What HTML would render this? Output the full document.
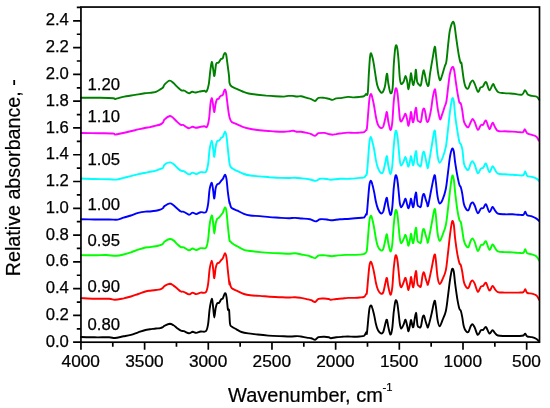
<!DOCTYPE html>
<html><head><meta charset="utf-8"><style>
html,body{margin:0;padding:0;background:#fff;}
svg{display:block;}
</style></head><body>
<svg width="550" height="408" viewBox="0 0 550 408">
<rect width="550" height="408" fill="#fff"/>
<path d="M81.0 337.0C83.2 337.1 89.8 337.2 94.5 337.3C99.2 337.4 105.7 337.2 109.1 337.3C112.5 337.4 112.5 338.2 114.9 338.0C117.3 337.8 120.9 336.8 123.6 336.3C126.3 335.8 128.5 335.5 130.9 334.8C133.3 334.1 135.8 333.1 138.2 332.3C140.6 331.5 143.5 330.5 145.5 330.0C147.5 329.5 148.3 329.6 150.0 329.3C151.7 329.1 154.2 328.7 155.9 328.5C157.6 328.3 159.1 328.5 160.3 328.2C161.5 327.9 162.3 327.4 163.0 327.0C163.7 326.6 163.5 326.1 164.7 325.6C165.8 325.1 168.4 323.9 169.9 323.8C171.4 323.8 172.3 324.6 173.5 325.3C174.7 326.0 176.0 327.3 177.2 328.2C178.4 329.1 179.8 330.2 180.9 330.7C182.0 331.2 182.5 330.8 183.8 331.2C185.2 331.6 187.5 333.1 189.0 333.2C190.5 333.3 191.4 331.9 192.6 331.8C193.8 331.8 195.0 332.9 196.3 332.9C197.7 332.8 199.1 331.8 200.7 331.5C202.3 331.2 204.7 332.4 205.9 331.2C207.1 330.0 207.5 327.7 208.1 324.1C208.7 320.5 209.0 313.6 209.6 309.4C210.2 305.2 211.2 299.1 211.8 298.8C212.4 298.6 212.8 304.8 213.2 307.9C213.6 311.0 213.9 317.5 214.3 317.5C214.7 317.5 215.2 310.3 215.7 307.9C216.2 305.5 216.6 304.0 217.2 303.2C217.8 302.4 218.4 303.5 219.1 302.8C219.8 302.1 220.7 299.8 221.3 299.1C221.9 298.4 222.2 299.4 222.8 298.4C223.4 297.4 224.4 293.4 225.0 293.2C225.6 292.9 226.0 294.2 226.5 296.9C227.0 299.6 227.5 307.2 227.9 309.4C228.3 311.6 228.8 307.8 229.1 310.2C229.4 312.6 229.6 321.0 230.0 323.7C230.4 326.4 230.4 325.5 231.4 326.4C232.4 327.3 234.4 328.2 236.1 329.1C237.8 330.0 239.5 331.3 241.5 332.0C243.5 332.7 245.5 333.0 248.2 333.4C250.9 333.8 254.2 334.1 257.6 334.5C261.0 334.9 264.8 335.3 268.4 335.6C272.0 335.9 275.6 336.0 279.2 336.1C282.8 336.2 287.0 336.5 290.0 336.5C293.0 336.5 295.6 336.1 297.4 336.1C299.2 336.1 299.3 336.2 300.9 336.5C302.5 336.8 305.1 337.3 306.8 337.6C308.5 337.9 309.8 337.9 311.2 338.2C312.6 338.5 313.9 339.9 315.1 339.7C316.3 339.5 316.9 337.7 318.5 337.2C320.1 336.7 322.7 336.8 324.4 336.8C326.1 336.8 327.7 337.0 328.8 337.2C329.9 337.4 329.8 338.2 331.0 338.2C332.2 338.2 334.3 337.4 336.2 337.2C338.1 337.0 340.2 336.9 342.1 336.8C344.1 336.7 345.9 336.5 347.9 336.5C349.8 336.5 351.8 336.8 353.8 336.8C355.8 336.8 358.0 336.7 359.7 336.5C361.4 336.3 363.0 336.4 364.1 335.7C365.2 334.9 366.0 332.4 366.5 332.0C367.0 331.6 366.6 335.4 366.9 333.4C367.2 331.4 367.8 324.1 368.2 320.0C368.6 315.9 369.0 311.3 369.4 308.9C369.8 306.5 370.3 305.5 370.8 305.4C371.3 305.2 371.8 306.4 372.3 308.0C372.9 309.6 373.5 312.3 374.1 314.9C374.7 317.5 375.2 320.9 375.8 323.5C376.4 326.1 377.1 328.7 378.0 330.3C378.9 331.9 380.0 333.1 380.9 333.4C381.8 333.7 382.4 333.6 383.2 332.0C383.9 330.4 384.8 325.6 385.4 323.5C386.0 321.4 386.4 319.1 386.9 319.7C387.4 320.3 387.7 324.4 388.3 326.9C388.9 329.4 389.8 334.3 390.4 334.6C391.0 334.9 391.6 332.5 392.2 328.6C392.8 324.8 393.2 316.1 393.8 311.5C394.4 306.9 394.9 302.2 395.5 300.8C396.1 299.4 396.7 300.8 397.2 302.9C397.7 305.0 398.2 309.8 398.6 313.2C399.0 316.6 399.4 320.9 399.8 323.5C400.2 326.1 400.6 328.5 401.2 328.6C401.8 328.7 403.0 325.8 403.7 324.3C404.4 322.8 404.9 319.4 405.5 319.7C406.1 320.0 406.7 324.1 407.2 326.0C407.7 327.9 408.0 331.5 408.5 331.2C409.0 330.9 409.7 326.2 410.1 324.3C410.5 322.4 410.7 319.9 411.1 320.0C411.5 320.1 411.9 324.1 412.3 325.2C412.7 326.3 412.9 328.6 413.5 326.5C414.1 324.4 415.2 313.0 415.9 312.8C416.6 312.6 416.9 322.8 417.5 325.2C418.1 327.6 418.6 327.0 419.2 327.2C419.8 327.4 420.3 328.1 420.9 326.5C421.5 324.9 422.1 319.3 422.6 317.5C423.1 315.7 423.5 315.1 424.0 315.7C424.5 316.3 425.0 319.2 425.5 320.9C426.0 322.6 426.7 324.8 427.1 325.8C427.5 326.8 427.4 328.6 428.1 326.9C428.8 325.2 430.2 319.7 431.2 315.4C432.3 311.1 433.6 302.8 434.4 301.2C435.2 299.6 435.3 302.9 435.8 306.0C436.3 309.1 436.9 316.2 437.5 319.6C438.1 323.0 438.7 326.2 439.6 326.2C440.5 326.2 441.7 322.1 442.7 319.6C443.7 317.1 444.9 315.0 445.8 311.2C446.7 307.4 447.2 301.9 447.9 296.7C448.6 291.5 449.3 284.6 450.0 280.0C450.7 275.4 451.5 270.6 452.1 269.2C452.7 267.8 453.2 269.2 453.8 271.7C454.3 274.2 454.6 279.7 455.2 284.2C455.8 288.7 456.6 294.7 457.3 298.8C458.0 302.9 458.8 306.8 459.4 308.8C460.0 310.8 460.3 309.3 460.8 310.7C461.3 312.1 461.8 314.7 462.3 317.4C462.8 320.1 463.2 324.4 463.9 326.7C464.5 329.0 465.4 330.4 466.2 331.3C467.0 332.2 467.7 332.7 468.5 331.8C469.3 330.9 470.1 327.1 470.8 325.9C471.5 324.7 472.1 324.1 472.7 324.4C473.3 324.7 473.8 325.8 474.7 327.5C475.6 329.2 476.8 334.4 477.8 334.9C478.8 335.3 480.0 331.0 480.9 330.2C481.8 329.4 482.3 330.3 483.2 329.8C484.1 329.3 485.0 326.5 486.0 327.1C487.0 327.7 488.3 333.1 489.4 333.6C490.5 334.1 491.6 330.3 492.5 330.2C493.4 330.1 493.9 332.0 494.8 332.9C495.7 333.8 496.2 335.0 497.9 335.5C499.6 336.0 502.4 335.9 504.8 336.0C507.2 336.1 510.3 336.0 512.6 336.0C514.9 336.0 516.9 336.1 518.7 336.0C520.5 335.9 522.3 335.9 523.4 335.5C524.5 335.1 524.6 333.5 525.2 333.6C525.8 333.8 526.1 335.8 527.2 336.4C528.3 337.0 530.4 336.8 531.9 337.2C533.4 337.6 535.3 338.3 536.5 339.0C537.7 339.7 538.7 341.0 539.1 341.4" stroke="#000000" stroke-width="1.9" fill="none" stroke-linejoin="round" stroke-linecap="round"/>
<path d="M81.0 298.1C83.2 298.2 89.8 298.7 94.5 298.8C99.2 298.9 105.7 298.6 109.1 298.8C112.5 299.0 112.5 299.9 114.9 299.8C117.3 299.7 120.9 298.9 123.6 298.4C126.3 297.8 128.5 297.2 130.9 296.5C133.3 295.8 135.8 294.8 138.2 294.0C140.6 293.2 143.5 292.1 145.5 291.5C147.5 290.9 148.3 290.9 150.0 290.7C151.7 290.4 154.2 290.2 155.9 290.0C157.6 289.8 159.1 289.7 160.3 289.3C161.5 288.9 162.3 288.4 163.0 287.8C163.7 287.2 163.5 286.6 164.7 285.9C165.8 285.2 168.4 283.9 169.9 283.8C171.4 283.8 172.3 284.8 173.5 285.6C174.7 286.4 176.0 287.5 177.2 288.5C178.4 289.5 179.8 290.9 180.9 291.5C182.0 292.1 182.5 291.3 183.8 291.8C185.2 292.3 187.5 294.3 189.0 294.4C190.5 294.5 191.4 292.7 192.6 292.6C193.8 292.6 195.0 294.1 196.3 294.1C197.7 294.1 199.1 292.9 200.7 292.6C202.3 292.3 204.7 293.6 205.9 292.2C207.1 290.8 207.5 287.9 208.1 284.1C208.7 280.3 209.0 273.3 209.6 269.4C210.2 265.5 211.2 260.6 211.8 260.6C212.4 260.6 212.8 266.5 213.2 269.4C213.6 272.3 213.9 278.4 214.3 278.2C214.7 277.9 215.2 270.3 215.7 267.9C216.2 265.4 216.6 264.4 217.2 263.5C217.8 262.6 218.4 263.4 219.1 262.8C219.8 262.2 220.7 260.6 221.3 259.9C221.9 259.2 222.2 259.5 222.8 258.4C223.4 257.3 224.4 253.3 225.0 253.2C225.6 253.1 226.0 254.7 226.5 257.6C227.0 260.6 227.4 266.5 227.9 270.9C228.4 275.3 229.1 282.3 229.4 284.1C229.7 285.9 229.2 281.1 229.5 281.5C229.8 281.9 230.3 285.6 230.9 286.8C231.5 288.0 231.7 288.2 232.8 288.9C233.9 289.6 235.8 290.2 237.6 291.1C239.4 292.0 241.8 293.3 243.9 294.0C246.0 294.7 247.6 295.0 250.3 295.3C253.0 295.6 256.7 295.7 259.9 295.9C263.1 296.1 266.3 296.5 269.5 296.7C272.7 296.9 275.8 297.1 279.0 297.2C282.2 297.3 285.9 297.5 288.6 297.5C291.3 297.5 292.9 297.1 295.0 297.2C297.1 297.3 298.9 297.6 300.9 297.9C302.9 298.2 305.1 298.7 306.8 299.1C308.5 299.5 309.8 299.7 311.2 300.2C312.6 300.7 313.9 302.2 315.1 302.0C316.3 301.8 316.9 299.4 318.5 298.8C320.1 298.2 322.7 298.5 324.4 298.5C326.1 298.5 327.7 298.8 328.8 299.0C329.9 299.2 329.8 299.8 331.0 299.8C332.2 299.8 334.3 299.2 336.2 299.0C338.1 298.8 340.2 298.7 342.1 298.5C344.1 298.3 345.9 298.0 347.9 297.9C349.8 297.8 351.8 298.0 353.8 297.9C355.8 297.8 358.0 297.7 359.7 297.5C361.4 297.3 363.0 297.4 364.1 296.8C365.2 296.2 365.8 294.5 366.3 293.8C366.8 293.1 366.6 295.1 366.9 292.5C367.2 289.9 367.8 282.3 368.2 277.9C368.6 273.5 369.0 268.6 369.4 265.9C369.8 263.2 370.3 261.8 370.8 261.6C371.3 261.5 371.8 263.1 372.3 265.0C372.9 266.9 373.5 269.8 374.1 272.7C374.7 275.6 375.2 279.3 375.8 282.2C376.4 285.1 377.1 288.0 378.0 289.9C378.9 291.8 380.0 293.3 380.9 293.7C381.8 294.1 382.4 294.3 383.2 292.5C383.9 290.7 384.8 285.4 385.4 283.0C386.0 280.6 386.4 277.3 386.9 277.9C387.4 278.5 387.7 283.7 388.3 286.5C388.9 289.3 389.8 294.4 390.4 294.7C391.0 295.0 391.6 292.7 392.2 288.2C392.8 283.7 393.2 273.0 393.8 267.6C394.4 262.2 394.9 257.0 395.5 255.6C396.1 254.2 396.7 256.4 397.2 259.0C397.7 261.6 398.2 267.0 398.6 271.0C399.0 275.0 399.4 280.3 399.8 283.0C400.2 285.7 400.6 287.4 401.2 287.3C401.8 287.2 403.0 283.8 403.7 282.2C404.4 280.6 404.9 277.5 405.5 277.9C406.1 278.3 406.7 282.7 407.2 284.7C407.7 286.7 408.0 290.2 408.5 289.9C409.0 289.6 409.7 285.1 410.1 283.0C410.5 280.9 410.7 276.9 411.1 277.0C411.5 277.1 411.9 282.3 412.3 283.9C412.7 285.5 412.9 288.6 413.5 286.5C414.1 284.4 415.2 271.4 415.9 271.0C416.6 270.6 416.9 281.4 417.5 283.9C418.1 286.4 418.6 285.7 419.2 286.1C419.8 286.5 420.3 287.9 420.9 286.1C421.5 284.3 422.1 277.6 422.6 275.3C423.1 273.0 423.5 272.0 424.0 272.4C424.5 272.8 425.0 276.1 425.5 277.9C426.0 279.6 426.7 281.9 427.1 282.9C427.5 283.9 427.4 286.1 428.1 284.0C428.8 281.9 430.2 275.3 431.2 270.4C432.3 265.5 433.6 256.5 434.4 254.8C435.2 253.1 435.3 256.4 435.8 260.0C436.3 263.6 436.9 272.7 437.5 276.7C438.1 280.7 438.7 283.6 439.6 284.0C440.5 284.4 441.7 281.1 442.7 278.8C443.7 276.5 444.9 274.6 445.8 270.4C446.7 266.2 447.2 259.7 447.9 253.8C448.6 247.9 449.3 240.4 450.0 235.0C450.7 229.6 451.5 223.2 452.1 221.5C452.7 219.8 453.2 221.7 453.8 224.6C454.3 227.5 454.6 234.3 455.2 239.2C455.8 244.1 456.6 249.8 457.3 253.8C458.0 257.8 458.8 261.2 459.4 263.1C460.0 265.0 460.3 263.6 460.8 265.1C461.3 266.6 461.8 269.2 462.3 272.0C462.8 274.8 463.2 279.5 463.9 282.0C464.5 284.5 465.4 286.1 466.2 287.1C467.0 288.1 467.7 288.8 468.5 287.9C469.3 287.0 470.1 283.2 470.8 282.0C471.5 280.8 472.1 280.2 472.7 280.5C473.3 280.8 473.8 281.7 474.7 283.6C475.6 285.5 476.8 291.3 477.8 291.8C478.8 292.3 480.0 287.7 480.9 286.7C481.8 285.7 482.3 286.5 483.2 285.9C484.1 285.2 485.0 282.0 486.0 282.8C487.0 283.6 488.3 290.0 489.4 290.5C490.5 291.0 491.6 286.1 492.5 285.9C493.4 285.6 493.9 288.0 494.8 289.0C495.7 290.0 496.2 291.5 497.9 292.1C499.6 292.7 502.4 292.5 504.8 292.6C507.2 292.7 510.3 292.6 512.6 292.6C514.9 292.6 516.9 292.7 518.7 292.6C520.5 292.5 522.3 292.7 523.4 292.1C524.5 291.6 524.6 289.2 525.2 289.3C525.8 289.4 526.1 292.2 527.2 292.9C528.3 293.6 530.4 293.2 531.9 293.6C533.4 294.0 535.3 294.5 536.5 295.5C537.7 296.5 538.7 299.1 539.1 299.8" stroke="#ff0000" stroke-width="1.9" fill="none" stroke-linejoin="round" stroke-linecap="round"/>
<path d="M81.0 255.1C83.2 255.1 90.3 255.3 94.5 255.3C98.7 255.3 102.5 254.9 106.2 255.0C109.9 255.1 113.5 255.9 116.4 255.8C119.3 255.7 121.2 255.1 123.6 254.5C126.0 253.9 128.5 253.1 130.9 252.3C133.3 251.5 135.8 250.5 138.2 249.7C140.6 248.9 143.5 247.9 145.5 247.5C147.5 247.1 148.3 247.3 150.0 247.1C151.7 246.9 154.2 246.6 155.9 246.3C157.6 246.0 159.1 245.6 160.3 245.2C161.5 244.8 162.3 244.3 163.0 243.7C163.7 243.1 163.5 242.3 164.7 241.5C165.8 240.7 168.4 239.2 169.9 239.0C171.4 238.8 172.3 239.6 173.5 240.4C174.7 241.2 176.0 243.0 177.2 244.1C178.4 245.2 179.8 246.5 180.9 247.1C182.0 247.7 182.5 246.9 183.8 247.4C185.2 247.9 187.5 250.1 189.0 250.3C190.5 250.5 191.4 248.6 192.6 248.5C193.8 248.4 195.0 250.1 196.3 250.0C197.7 249.9 199.1 248.6 200.7 248.2C202.3 247.8 204.7 249.2 205.9 247.8C207.1 246.4 207.5 243.5 208.1 239.7C208.7 235.9 209.0 229.1 209.6 225.0C210.2 220.9 211.2 215.7 211.8 215.4C212.4 215.2 212.8 220.5 213.2 223.5C213.6 226.5 213.9 233.5 214.3 233.5C214.7 233.5 215.2 225.9 215.7 223.5C216.2 221.1 216.6 219.8 217.2 218.8C217.8 217.8 218.4 218.3 219.1 217.6C219.8 216.9 220.7 215.5 221.3 214.7C221.9 213.9 222.2 214.1 222.8 212.9C223.4 211.7 224.4 207.6 225.0 207.4C225.6 207.2 226.0 208.6 226.5 211.8C227.0 215.0 227.4 221.8 227.9 226.5C228.4 231.2 229.0 237.2 229.4 239.7C229.8 242.2 229.8 240.7 230.4 241.4C231.0 242.1 231.6 243.0 232.8 243.8C234.0 244.7 235.8 245.5 237.6 246.5C239.4 247.5 241.8 249.1 243.9 249.8C246.0 250.6 247.6 250.6 250.3 251.0C253.0 251.4 256.7 251.8 259.9 252.1C263.1 252.4 266.3 252.7 269.5 252.9C272.7 253.1 275.8 253.2 279.0 253.3C282.2 253.4 285.9 253.7 288.6 253.7C291.3 253.7 292.9 253.2 295.0 253.3C297.1 253.4 299.3 254.1 301.4 254.5C303.5 254.9 306.1 255.3 307.8 255.7C309.5 256.1 310.4 256.6 311.7 257.0C312.9 257.4 314.1 258.4 315.3 258.1C316.5 257.8 317.2 255.9 318.9 255.4C320.6 254.9 323.2 255.3 325.3 255.4C327.4 255.5 329.6 256.2 331.7 256.2C333.8 256.2 335.7 255.6 338.1 255.4C340.5 255.2 343.1 255.0 346.0 254.9C348.9 254.8 352.7 255.0 355.6 254.9C358.5 254.8 361.9 254.5 363.6 254.1C365.3 253.7 365.4 253.2 366.0 252.5C366.6 251.8 366.5 253.0 366.9 250.0C367.3 247.0 367.8 239.4 368.2 234.6C368.6 229.8 369.0 224.1 369.4 220.9C369.8 217.8 370.3 216.0 370.8 215.7C371.3 215.4 371.8 217.2 372.3 219.2C372.9 221.2 373.5 224.6 374.1 227.7C374.7 230.8 375.2 234.8 375.8 238.0C376.4 241.2 377.1 244.5 378.0 246.6C378.9 248.7 380.0 250.0 380.9 250.4C381.8 250.8 382.4 251.0 383.2 249.2C383.9 247.4 384.8 242.2 385.4 239.7C386.0 237.2 386.4 233.7 386.9 234.3C387.4 234.9 387.7 240.3 388.3 243.2C388.9 246.0 389.8 251.1 390.4 251.4C391.0 251.7 391.6 249.4 392.2 244.9C392.8 240.4 393.2 230.0 393.8 224.3C394.4 218.6 394.9 212.4 395.5 210.6C396.1 208.8 396.7 210.6 397.2 213.2C397.7 215.8 398.2 221.9 398.6 226.0C399.0 230.1 399.4 235.1 399.8 238.0C400.2 240.9 400.6 243.0 401.2 243.2C401.8 243.3 403.0 240.3 403.7 238.9C404.4 237.5 404.9 234.6 405.5 234.9C406.1 235.2 406.7 238.8 407.2 240.6C407.7 242.4 408.0 246.0 408.5 245.7C409.0 245.4 409.7 240.9 410.1 238.9C410.5 236.9 410.7 233.4 411.1 233.7C411.5 234.0 411.9 239.2 412.3 240.6C412.7 242.0 412.9 244.5 413.5 242.3C414.1 240.2 415.2 228.0 415.9 227.7C416.6 227.4 416.9 238.2 417.5 240.6C418.1 243.0 418.6 242.0 419.2 242.3C419.8 242.6 420.3 244.2 420.9 242.3C421.5 240.5 422.1 233.4 422.6 231.2C423.1 229.0 423.5 228.5 424.0 229.1C424.5 229.7 425.0 232.8 425.5 234.6C426.0 236.4 426.7 238.6 427.1 239.8C427.5 241.0 427.4 244.2 428.1 241.9C428.8 239.6 430.2 231.6 431.2 226.2C432.3 220.8 433.6 211.5 434.4 209.6C435.2 207.7 435.3 211.0 435.8 214.8C436.3 218.6 436.9 228.2 437.5 232.5C438.1 236.8 438.7 240.5 439.6 240.8C440.5 241.2 441.7 237.2 442.7 234.6C443.7 232.0 444.9 229.4 445.8 225.2C446.7 221.0 447.2 215.3 447.9 209.6C448.6 203.9 449.3 196.4 450.0 190.8C450.7 185.2 451.5 178.1 452.1 176.2C452.7 174.3 453.2 176.6 453.8 179.4C454.3 182.2 454.6 187.9 455.2 192.9C455.8 197.9 456.6 205.1 457.3 209.6C458.0 214.1 458.8 217.9 459.4 220.0C460.0 222.1 460.3 220.3 460.8 222.1C461.3 223.8 461.8 227.4 462.3 230.5C462.8 233.6 463.2 237.9 463.9 240.5C464.5 243.1 465.4 244.8 466.2 245.9C467.0 247.0 467.7 247.9 468.5 247.0C469.3 246.1 470.1 241.9 470.8 240.5C471.5 239.1 472.1 238.2 472.7 238.5C473.3 238.8 473.8 239.9 474.7 242.0C475.6 244.1 476.8 250.4 477.8 250.9C478.8 251.4 480.0 246.1 480.9 245.1C481.8 244.1 482.3 245.3 483.2 244.7C484.1 244.1 485.0 240.5 486.0 241.3C487.0 242.2 488.3 249.3 489.4 249.8C490.5 250.3 491.6 244.8 492.5 244.4C493.4 244.0 493.9 246.3 494.8 247.5C495.7 248.7 496.2 250.5 497.9 251.3C499.6 252.1 502.4 251.9 504.8 252.1C507.2 252.3 510.3 252.3 512.6 252.4C514.9 252.5 516.9 252.8 518.7 252.9C520.5 253.0 522.3 253.5 523.4 252.9C524.5 252.3 524.6 249.2 525.2 249.3C525.8 249.4 526.1 252.5 527.2 253.3C528.3 254.2 530.4 253.9 531.9 254.4C533.4 254.9 535.3 255.4 536.5 256.4C537.7 257.4 538.7 259.9 539.1 260.6" stroke="#00ff00" stroke-width="1.9" fill="none" stroke-linejoin="round" stroke-linecap="round"/>
<path d="M81.0 219.2C83.2 219.2 89.8 219.4 94.5 219.5C99.2 219.6 105.2 219.5 109.1 219.5C113.0 219.5 115.4 219.9 117.8 219.6C120.2 219.3 121.4 218.4 123.6 217.7C125.8 217.0 128.5 216.3 130.9 215.5C133.3 214.7 135.8 213.6 138.2 212.9C140.6 212.2 143.5 211.8 145.5 211.6C147.5 211.4 148.3 211.7 150.0 211.5C151.7 211.3 154.2 211.0 155.9 210.7C157.6 210.4 159.1 210.0 160.3 209.6C161.5 209.2 162.3 208.7 163.0 208.1C163.7 207.5 163.5 206.7 164.7 205.9C165.8 205.1 168.4 203.5 169.9 203.4C171.4 203.3 172.3 204.5 173.5 205.3C174.7 206.2 176.0 207.5 177.2 208.5C178.4 209.5 179.8 210.9 180.9 211.5C182.0 212.1 182.5 211.3 183.8 211.8C185.2 212.3 187.5 214.6 189.0 214.7C190.5 214.8 191.4 212.7 192.6 212.6C193.8 212.5 195.0 214.2 196.3 214.1C197.7 214.0 199.1 212.5 200.7 212.2C202.3 211.9 204.7 213.5 205.9 212.2C207.1 210.8 207.5 207.9 208.1 204.1C208.7 200.3 209.0 192.9 209.6 189.4C210.2 185.9 211.2 182.6 211.8 182.8C212.4 183.1 212.8 188.3 213.2 190.9C213.6 193.5 213.9 199.0 214.3 198.5C214.7 198.0 215.2 190.3 215.7 187.9C216.2 185.5 216.6 185.0 217.2 184.3C217.8 183.6 218.4 184.1 219.1 183.5C219.8 182.9 220.7 181.3 221.3 180.6C221.9 179.9 222.2 180.1 222.8 179.1C223.4 178.1 224.4 174.7 225.0 174.7C225.6 174.7 226.0 176.1 226.5 179.1C227.0 182.1 227.4 188.5 227.9 192.4C228.4 196.3 229.1 201.0 229.4 202.6C229.7 204.2 229.2 201.1 229.5 201.8C229.8 202.5 230.3 205.9 230.9 207.0C231.5 208.1 231.7 208.0 232.8 208.6C233.9 209.2 235.8 209.8 237.6 210.7C239.4 211.6 241.8 213.1 243.9 213.9C246.0 214.7 247.6 215.1 250.3 215.5C253.0 215.9 256.7 215.8 259.9 216.1C263.1 216.4 266.3 216.8 269.5 217.1C272.7 217.4 275.8 217.5 279.0 217.7C282.2 217.9 285.9 218.2 288.6 218.2C291.3 218.2 292.8 217.8 295.0 217.9C297.2 218.0 299.5 218.3 302.0 218.5C304.5 218.7 307.7 218.8 310.0 219.3C312.3 219.8 313.9 221.4 315.6 221.4C317.3 221.4 318.1 219.6 320.0 219.3C321.9 219.0 325.2 219.3 327.0 219.5C328.8 219.7 328.8 220.3 331.0 220.3C333.2 220.3 336.8 219.6 340.0 219.3C343.2 219.0 346.3 219.0 350.0 218.7C353.7 218.4 359.6 217.9 362.0 217.7C364.4 217.5 363.6 217.9 364.3 217.3C365.0 216.7 365.8 214.7 366.2 214.0C366.6 213.3 366.6 216.0 366.9 213.3C367.2 210.6 367.8 202.6 368.2 197.9C368.6 193.2 369.0 187.9 369.4 185.0C369.8 182.1 370.3 180.8 370.8 180.7C371.3 180.6 371.8 182.3 372.3 184.2C372.9 186.1 373.5 189.1 374.1 191.9C374.7 194.8 375.2 198.5 375.8 201.3C376.4 204.2 377.1 207.0 378.0 209.0C378.9 211.0 380.0 212.9 380.9 213.3C381.8 213.7 382.4 213.4 383.2 211.6C383.9 209.8 384.8 204.5 385.4 202.2C386.0 199.9 386.4 197.2 386.9 197.9C387.4 198.6 387.7 203.7 388.3 206.5C388.9 209.3 389.8 214.7 390.4 215.0C391.0 215.3 391.6 212.8 392.2 208.2C392.8 203.6 393.2 193.0 393.8 187.6C394.4 182.2 394.9 177.0 395.5 175.6C396.1 174.2 396.7 176.4 397.2 179.0C397.7 181.6 398.2 187.0 398.6 191.0C399.0 195.0 399.4 200.3 399.8 203.0C400.2 205.7 400.6 207.3 401.2 207.3C401.8 207.3 403.0 204.4 403.7 203.0C404.4 201.6 404.9 198.4 405.5 198.7C406.1 199.0 406.7 203.1 407.2 204.7C407.7 206.3 408.0 208.5 408.5 208.2C409.0 207.9 409.7 204.6 410.1 203.0C410.5 201.4 410.7 198.4 411.1 198.7C411.5 199.0 411.9 203.4 412.3 204.7C412.7 206.0 412.9 208.6 413.5 206.5C414.1 204.4 415.2 192.7 415.9 192.4C416.6 192.1 416.9 202.3 417.5 204.7C418.1 207.0 418.6 206.2 419.2 206.5C419.8 206.8 420.3 208.2 420.9 206.5C421.5 204.8 422.1 198.3 422.6 196.2C423.1 194.1 423.5 193.7 424.0 194.1C424.5 194.5 425.0 197.1 425.5 198.7C426.0 200.3 426.7 202.3 427.1 203.5C427.5 204.7 427.4 207.8 428.1 205.6C428.8 203.3 430.2 195.0 431.2 190.0C432.3 185.0 433.6 176.8 434.4 175.4C435.2 174.0 435.3 178.2 435.8 181.7C436.3 185.2 436.9 192.6 437.5 196.2C438.1 199.8 438.7 203.0 439.6 203.5C440.5 204.0 441.7 201.8 442.7 199.4C443.7 197.0 444.9 193.3 445.8 189.0C446.7 184.7 447.2 178.7 447.9 173.3C448.6 167.9 449.3 160.8 450.0 156.7C450.7 152.6 451.5 149.7 452.1 148.8C452.7 147.9 453.2 149.2 453.8 151.5C454.3 153.8 454.6 158.9 455.2 162.9C455.8 166.9 456.6 171.8 457.3 175.4C458.0 179.1 458.8 182.8 459.4 184.8C460.0 186.8 460.3 185.8 460.8 187.3C461.3 188.8 461.8 191.1 462.3 193.9C462.8 196.7 463.2 201.5 463.9 204.0C464.5 206.5 465.4 208.1 466.2 209.1C467.0 210.1 467.7 210.9 468.5 210.1C469.3 209.2 470.1 205.3 470.8 204.0C471.5 202.7 472.1 202.2 472.7 202.4C473.3 202.7 473.8 203.7 474.7 205.5C475.6 207.3 476.8 212.7 477.8 213.2C478.8 213.7 480.0 209.4 480.9 208.6C481.8 207.8 482.3 208.8 483.2 208.1C484.1 207.4 485.0 203.7 486.0 204.4C487.0 205.1 488.3 211.7 489.4 212.1C490.5 212.5 491.6 207.3 492.5 207.0C493.4 206.7 493.9 209.0 494.8 210.1C495.7 211.2 496.2 213.0 497.9 213.7C499.6 214.4 502.4 214.2 504.8 214.3C507.2 214.4 510.3 214.2 512.6 214.3C514.9 214.4 516.9 214.7 518.7 214.8C520.5 214.9 522.3 215.3 523.4 214.8C524.5 214.3 524.6 211.6 525.2 211.7C525.8 211.8 526.1 214.4 527.2 215.2C528.3 216.0 530.4 215.7 531.9 216.3C533.4 216.9 535.3 217.8 536.5 218.6C537.7 219.4 538.7 220.6 539.1 221.0" stroke="#0000ff" stroke-width="1.9" fill="none" stroke-linejoin="round" stroke-linecap="round"/>
<path d="M81.0 178.5C83.2 178.6 89.8 178.9 94.5 179.0C99.2 179.1 105.4 179.2 109.1 179.3C112.8 179.4 114.0 179.8 116.4 179.6C118.8 179.3 121.2 178.4 123.6 177.8C126.0 177.2 128.5 176.7 130.9 176.1C133.3 175.5 135.8 174.8 138.2 174.2C140.6 173.6 143.5 173.1 145.5 172.7C147.5 172.3 148.3 172.1 150.0 171.8C151.7 171.5 154.2 171.2 155.9 170.7C157.6 170.2 159.1 169.4 160.3 168.9C161.5 168.4 162.3 168.6 163.0 167.9C163.7 167.1 163.5 165.3 164.7 164.4C165.8 163.5 168.4 162.5 169.9 162.4C171.4 162.3 172.3 163.2 173.5 164.1C174.7 165.0 176.0 166.7 177.2 167.8C178.4 168.9 179.8 170.1 180.9 170.7C182.0 171.3 182.5 170.6 183.8 171.2C185.2 171.8 187.5 174.2 189.0 174.4C190.5 174.6 191.4 172.7 192.6 172.6C193.8 172.5 195.0 174.2 196.3 174.1C197.7 174.0 199.1 172.6 200.7 172.2C202.3 171.8 204.7 173.2 205.9 171.8C207.1 170.5 207.5 167.8 208.1 164.1C208.7 160.4 209.0 153.3 209.6 149.4C210.2 145.5 211.2 140.6 211.8 140.6C212.4 140.6 212.8 146.7 213.2 149.4C213.6 152.1 213.9 157.3 214.3 156.8C214.7 156.3 215.2 149.1 215.7 146.5C216.2 143.9 216.6 142.3 217.2 141.3C217.8 140.3 218.4 141.2 219.1 140.6C219.8 140.0 220.7 138.2 221.3 137.6C221.9 137.0 222.2 137.9 222.8 136.9C223.4 135.9 224.4 131.9 225.0 131.8C225.6 131.7 226.0 133.3 226.5 136.2C227.0 139.1 227.4 145.0 227.9 149.4C228.4 153.8 229.0 159.8 229.4 162.6C229.8 165.4 229.8 165.4 230.4 166.4C231.0 167.4 231.6 168.0 232.8 168.8C234.0 169.6 235.8 170.3 237.6 171.2C239.4 172.1 241.8 173.3 243.9 174.0C246.0 174.7 247.6 175.1 250.3 175.5C253.0 175.9 256.7 176.1 259.9 176.4C263.1 176.7 266.3 176.9 269.5 177.2C272.7 177.4 275.8 177.8 279.0 177.9C282.2 178.0 285.9 178.0 288.6 178.0C291.3 178.0 292.8 177.6 295.0 177.7C297.2 177.8 299.5 178.1 302.0 178.4C304.5 178.7 307.7 179.1 310.0 179.5C312.3 179.9 313.9 181.0 315.6 180.9C317.3 180.8 318.1 179.1 320.0 178.8C321.9 178.5 325.2 178.8 327.0 179.0C328.8 179.2 328.8 179.7 331.0 179.7C333.2 179.7 336.8 179.0 340.0 178.8C343.2 178.7 346.7 179.0 350.0 178.8C353.3 178.7 357.7 178.1 360.0 177.9C362.3 177.7 363.0 178.0 364.0 177.5C365.0 177.0 365.5 175.7 366.0 175.0C366.5 174.3 366.5 176.2 366.9 173.3C367.3 170.5 367.8 163.1 368.2 157.9C368.6 152.8 369.0 145.9 369.4 142.4C369.8 138.9 370.3 137.1 370.8 137.0C371.3 136.9 371.8 139.5 372.3 141.6C372.9 143.7 373.5 146.3 374.1 149.3C374.7 152.3 375.2 156.4 375.8 159.6C376.4 162.8 377.1 166.0 378.0 168.2C378.9 170.4 380.0 172.4 380.9 173.0C381.8 173.6 382.4 173.4 383.2 171.6C383.9 169.8 384.8 164.8 385.4 162.2C386.0 159.6 386.4 155.6 386.9 156.2C387.4 156.8 387.7 162.6 388.3 165.6C388.9 168.6 389.8 174.0 390.4 174.2C391.0 174.3 391.6 171.2 392.2 166.5C392.8 161.8 393.2 151.8 393.8 145.9C394.4 140.0 394.9 133.2 395.5 131.3C396.1 129.4 396.7 132.0 397.2 134.7C397.7 137.4 398.2 143.3 398.6 147.6C399.0 151.9 399.4 157.5 399.8 160.5C400.2 163.5 400.6 165.5 401.2 165.6C401.8 165.7 403.0 162.7 403.7 161.3C404.4 159.9 404.9 156.7 405.5 157.0C406.1 157.3 406.7 161.4 407.2 163.0C407.7 164.6 408.0 166.9 408.5 166.5C409.0 166.1 409.7 162.2 410.1 160.5C410.5 158.8 410.7 155.9 411.1 156.2C411.5 156.5 411.9 160.8 412.3 162.2C412.7 163.6 412.9 166.6 413.5 164.7C414.1 162.8 415.2 151.3 415.9 151.0C416.6 150.7 416.9 160.6 417.5 163.0C418.1 165.4 418.6 165.2 419.2 165.6C419.8 166.0 420.3 167.4 420.9 165.6C421.5 163.8 422.1 156.8 422.6 154.5C423.1 152.2 423.5 151.3 424.0 151.9C424.5 152.5 425.0 155.6 425.5 157.9C426.0 160.2 426.7 164.3 427.1 165.8C427.5 167.3 427.4 169.7 428.1 166.9C428.8 164.1 430.2 155.2 431.2 149.2C432.3 143.2 433.6 132.5 434.4 130.8C435.2 129.1 435.3 134.7 435.8 138.8C436.3 142.9 436.9 151.4 437.5 155.4C438.1 159.4 438.7 162.3 439.6 162.7C440.5 163.0 441.7 160.1 442.7 157.5C443.7 154.9 444.9 151.6 445.8 147.1C446.7 142.6 447.2 136.3 447.9 130.4C448.6 124.5 449.3 117.0 450.0 111.7C450.7 106.4 451.5 100.5 452.1 98.8C452.7 97.0 453.2 98.4 453.8 101.2C454.3 104.0 454.6 110.9 455.2 115.8C455.8 120.7 456.6 126.1 457.3 130.4C458.0 134.8 458.8 139.6 459.4 141.9C460.0 144.2 460.3 142.6 460.8 144.0C461.3 145.4 462.0 147.0 462.5 150.2C463.0 153.4 463.3 160.1 463.9 163.2C464.5 166.3 465.4 167.5 466.2 168.6C467.0 169.7 467.7 170.6 468.5 169.7C469.3 168.8 470.1 164.6 470.8 163.2C471.5 161.8 472.1 161.1 472.7 161.3C473.3 161.6 473.8 162.7 474.7 164.7C475.6 166.7 476.8 172.5 477.8 173.2C478.8 173.8 480.0 169.5 480.9 168.6C481.8 167.7 482.3 168.6 483.2 167.8C484.1 167.0 485.0 162.9 486.0 163.6C487.0 164.3 488.3 171.6 489.4 172.1C490.5 172.6 491.6 166.8 492.5 166.3C493.4 165.9 493.9 168.2 494.8 169.4C495.7 170.6 496.2 172.9 497.9 173.7C499.6 174.5 502.4 174.1 504.8 174.3C507.2 174.5 510.3 174.7 512.6 174.8C514.9 175.0 516.9 175.1 518.7 175.2C520.5 175.3 522.3 175.8 523.4 175.2C524.5 174.6 524.6 171.3 525.2 171.4C525.8 171.5 526.1 175.0 527.2 175.9C528.3 176.8 530.4 176.4 531.9 176.8C533.4 177.2 535.3 177.9 536.5 178.6C537.7 179.3 538.7 180.6 539.1 181.0" stroke="#00ffff" stroke-width="1.9" fill="none" stroke-linejoin="round" stroke-linecap="round"/>
<path d="M81.0 133.0C84.0 133.0 93.7 133.1 99.0 133.2C104.3 133.3 110.3 133.3 113.0 133.5C115.7 133.7 113.6 134.6 115.3 134.5C117.0 134.4 119.7 133.7 123.0 133.0C126.3 132.3 131.4 131.0 135.0 130.2C138.6 129.4 142.2 128.5 144.7 128.0C147.2 127.5 148.1 127.5 150.0 127.1C151.9 126.7 154.2 126.0 155.9 125.6C157.6 125.2 159.1 125.0 160.3 124.5C161.5 124.0 162.3 123.3 163.0 122.4C163.7 121.6 163.5 120.4 164.7 119.3C165.8 118.2 168.4 116.2 169.9 116.0C171.4 115.8 172.3 117.2 173.5 118.2C174.7 119.2 176.0 120.8 177.2 121.9C178.4 123.0 179.9 124.4 180.9 124.9C181.9 125.4 182.2 124.6 183.1 124.9C183.9 125.2 185.0 126.2 186.0 126.8C187.0 127.3 187.9 128.2 189.0 128.2C190.1 128.2 191.4 126.9 192.6 126.8C193.8 126.7 195.0 127.8 196.3 127.8C197.7 127.8 199.3 127.0 200.7 126.8C202.0 126.5 203.3 126.3 204.4 126.3C205.5 126.3 206.2 128.0 207.0 126.8C207.8 125.6 208.4 122.8 209.0 119.1C209.6 115.3 210.0 107.8 210.4 104.3C210.8 100.8 211.3 98.4 211.7 98.2C212.1 98.0 212.4 100.6 212.8 102.9C213.2 105.2 213.8 111.9 214.2 112.1C214.6 112.3 215.1 106.4 215.5 104.3C215.9 102.2 216.4 100.4 216.9 99.5C217.4 98.6 218.0 99.4 218.5 98.9C219.0 98.5 219.3 97.4 219.8 96.8C220.3 96.2 220.9 95.8 221.4 95.5C221.9 95.2 222.4 95.8 222.8 95.1C223.2 94.4 223.6 92.5 223.9 91.5C224.2 90.5 224.6 89.4 224.9 89.4C225.2 89.4 225.5 89.5 225.9 91.5C226.3 93.5 226.8 98.1 227.2 101.6C227.6 105.1 228.2 109.5 228.6 112.3C229.0 115.1 229.3 116.6 229.8 118.2C230.3 119.8 230.5 120.9 231.7 121.9C232.9 122.9 235.0 123.3 236.8 124.1C238.6 124.9 240.7 126.1 242.7 126.8C244.7 127.5 246.2 128.0 248.6 128.5C251.0 129.0 254.5 129.6 257.4 130.0C260.3 130.4 263.2 130.4 266.2 130.7C269.1 130.9 272.2 131.3 275.1 131.5C278.1 131.7 281.4 131.9 283.9 131.8C286.3 131.8 288.2 131.4 289.8 131.2C291.4 131.0 292.2 130.6 293.4 130.7C294.6 130.8 295.9 131.6 297.1 131.8C298.4 132.0 299.3 131.6 300.9 131.8C302.5 132.0 305.1 132.5 306.8 132.9C308.5 133.3 309.8 133.6 311.2 134.1C312.6 134.6 313.9 136.1 315.1 135.9C316.3 135.8 316.9 133.7 318.5 133.2C320.1 132.7 322.7 132.8 324.4 132.9C326.1 133.1 327.4 133.8 328.8 134.1C330.2 134.4 331.3 134.7 332.5 134.7C333.7 134.7 334.6 134.3 336.2 134.1C337.8 133.8 340.2 133.4 342.1 133.2C344.1 132.9 345.9 132.6 347.9 132.6C349.8 132.6 351.8 132.9 353.8 132.9C355.8 132.9 358.0 132.7 359.7 132.6C361.4 132.5 363.1 132.6 364.1 132.2C365.2 131.8 365.5 130.7 366.0 130.0C366.5 129.3 366.5 131.2 366.9 128.3C367.3 125.5 367.8 117.8 368.2 112.9C368.6 108.1 369.0 102.4 369.4 99.2C369.8 96.0 370.3 94.3 370.8 94.0C371.3 93.7 371.8 95.4 372.3 97.4C372.9 99.4 373.5 102.8 374.1 106.0C374.7 109.2 375.2 113.1 375.8 116.3C376.4 119.5 377.1 123.0 378.0 124.9C378.9 126.9 380.0 127.7 380.9 128.0C381.8 128.3 382.4 128.3 383.2 126.6C383.9 124.9 384.8 120.4 385.4 118.0C386.0 115.6 386.4 111.4 386.9 112.0C387.4 112.6 387.7 118.5 388.3 121.5C388.9 124.5 389.8 129.7 390.4 130.0C391.0 130.3 391.6 128.1 392.2 123.2C392.8 118.4 393.2 106.6 393.8 100.9C394.4 95.2 394.9 90.5 395.5 88.9C396.1 87.3 396.7 88.8 397.2 91.4C397.7 94.0 398.2 99.9 398.6 104.3C399.0 108.7 399.4 115.1 399.8 118.0C400.2 120.9 400.6 121.6 401.2 121.5C401.8 121.4 403.0 118.5 403.7 117.2C404.4 115.9 404.9 113.3 405.5 113.7C406.1 114.1 406.7 117.7 407.2 119.7C407.7 121.7 408.0 126.0 408.5 125.7C409.0 125.4 409.7 120.3 410.1 118.0C410.5 115.7 410.7 111.7 411.1 112.0C411.5 112.3 411.9 118.1 412.3 119.7C412.7 121.3 412.9 123.5 413.5 121.5C414.1 119.5 415.2 108.0 415.9 107.7C416.6 107.4 416.9 117.4 417.5 119.7C418.1 122.0 418.6 121.2 419.2 121.5C419.8 121.8 420.3 123.2 420.9 121.5C421.5 119.8 422.1 113.4 422.6 111.2C423.1 109.0 423.5 108.2 424.0 108.6C424.5 109.0 425.1 111.6 425.5 113.7C425.9 115.8 426.2 119.8 426.7 121.0C427.2 122.2 427.7 122.8 428.4 121.0C429.1 119.2 430.3 113.8 431.0 109.9C431.7 106.1 432.1 101.3 432.7 97.9C433.3 94.5 434.2 89.6 434.8 89.3C435.4 89.0 435.6 92.8 436.1 96.2C436.6 99.6 437.2 106.1 437.9 109.9C438.6 113.8 439.4 118.6 440.1 119.3C440.8 120.0 441.4 116.3 442.2 114.2C443.0 112.1 444.0 108.7 444.7 106.5C445.4 104.3 445.8 104.6 446.4 101.3C447.0 98.0 447.6 91.3 448.2 86.7C448.8 82.1 449.2 77.2 449.9 73.9C450.6 70.6 451.7 67.6 452.4 67.0C453.1 66.4 453.6 67.8 454.2 70.4C454.8 73.0 455.3 78.5 455.9 82.4C456.5 86.3 457.0 90.3 457.6 93.6C458.2 96.9 458.8 100.5 459.3 102.2C459.8 103.9 460.3 102.1 460.8 103.5C461.3 104.9 461.8 107.5 462.3 110.5C462.8 113.5 463.2 118.7 463.9 121.3C464.5 123.9 465.4 125.0 466.2 125.9C467.0 126.9 467.7 127.7 468.5 127.0C469.3 126.3 470.1 123.3 470.8 122.0C471.5 120.7 472.1 119.0 472.7 119.0C473.3 119.0 473.8 120.2 474.7 122.0C475.6 123.8 476.8 129.3 477.8 129.8C478.8 130.3 480.0 125.9 480.9 125.1C481.8 124.2 482.3 125.5 483.2 124.7C484.1 123.9 485.0 119.8 486.0 120.5C487.0 121.2 488.3 128.6 489.4 129.0C490.5 129.4 491.6 123.2 492.5 122.8C493.4 122.4 493.9 125.3 494.8 126.7C495.7 128.1 496.2 130.1 497.9 130.9C499.6 131.7 502.4 131.2 504.8 131.3C507.2 131.4 510.3 131.5 512.6 131.6C514.9 131.7 517.0 132.0 518.7 132.1C520.5 132.2 522.1 132.6 523.1 132.1C524.1 131.6 524.2 129.1 524.9 129.3C525.6 129.5 526.0 132.4 527.2 133.3C528.4 134.2 530.4 134.3 531.9 134.9C533.4 135.5 535.4 135.8 536.5 136.7C537.6 137.6 538.4 139.9 538.8 140.6" stroke="#ff00ff" stroke-width="1.9" fill="none" stroke-linejoin="round" stroke-linecap="round"/>
<path d="M81.0 97.7C84.1 97.7 94.2 97.7 99.6 97.8C105.0 97.9 110.7 98.0 113.3 98.2C115.9 98.4 113.7 99.2 115.3 99.0C116.9 98.8 119.7 97.6 123.0 96.9C126.3 96.2 131.4 95.5 135.0 94.9C138.6 94.3 141.8 93.7 144.7 93.3C147.6 92.9 150.5 92.8 152.5 92.5C154.5 92.2 155.3 92.1 156.5 91.6C157.7 91.1 158.7 90.4 159.8 89.7C160.9 89.0 162.2 88.4 163.0 87.5C163.8 86.6 163.6 85.6 164.7 84.4C165.8 83.2 168.1 80.8 169.6 80.6C171.1 80.4 172.2 82.0 173.5 83.1C174.8 84.2 176.2 85.9 177.5 87.1C178.8 88.3 180.3 89.8 181.4 90.4C182.5 91.0 183.3 90.2 184.3 90.6C185.3 90.9 186.5 92.0 187.3 92.5C188.1 93.0 188.4 93.4 189.2 93.3C190.0 93.2 191.2 91.9 192.2 91.8C193.2 91.7 194.0 92.5 195.1 92.5C196.2 92.5 197.7 91.8 199.0 91.6C200.3 91.3 202.0 91.2 202.9 91.0C203.8 90.8 203.8 90.6 204.4 90.7C205.0 90.8 205.9 92.6 206.6 91.5C207.3 90.4 208.2 87.5 208.8 84.1C209.4 80.7 209.8 74.6 210.3 70.9C210.8 67.2 211.3 62.2 211.8 62.0C212.3 61.8 212.8 67.1 213.2 69.4C213.6 71.7 213.9 76.7 214.4 76.0C214.9 75.3 215.5 67.2 215.9 65.0C216.3 62.8 216.5 63.2 216.9 62.8C217.3 62.4 217.9 63.2 218.4 62.8C218.9 62.4 219.4 61.3 219.9 60.6C220.4 59.9 220.8 59.2 221.3 58.8C221.8 58.4 222.4 59.1 222.8 58.4C223.2 57.7 223.4 55.6 223.8 54.7C224.2 53.8 224.6 52.9 225.0 52.9C225.4 52.9 225.8 52.7 226.2 54.7C226.6 56.7 227.1 61.3 227.6 65.0C228.1 68.7 228.8 73.8 229.1 76.8C229.4 79.8 229.1 81.3 229.5 82.9C229.9 84.5 230.5 85.6 231.7 86.6C232.9 87.6 235.0 88.0 236.8 88.8C238.6 89.6 240.7 90.7 242.7 91.5C244.7 92.3 246.2 93.0 248.6 93.5C251.0 94.0 254.5 94.4 257.4 94.7C260.3 95.0 263.2 95.3 266.2 95.6C269.1 95.8 272.2 96.0 275.1 96.2C278.1 96.4 281.7 96.6 283.9 96.6C286.1 96.5 286.8 96.0 288.3 95.9C289.8 95.8 291.2 95.8 292.7 95.9C294.2 96.0 295.7 96.5 297.1 96.5C298.5 96.5 299.3 96.0 300.9 96.2C302.5 96.4 305.1 97.4 306.8 97.9C308.5 98.4 309.8 98.6 311.2 99.1C312.6 99.6 313.9 101.2 315.1 101.0C316.3 100.8 316.9 98.4 318.5 97.9C320.1 97.4 322.7 97.8 324.4 97.9C326.1 98.1 327.4 98.5 328.8 98.8C330.2 99.1 331.3 100.0 332.5 99.9C333.7 99.8 334.6 98.7 336.2 98.4C337.8 98.1 340.2 98.2 342.1 97.9C344.1 97.7 345.9 97.0 347.9 96.9C349.8 96.8 351.8 97.4 353.8 97.4C355.8 97.4 358.0 97.1 359.7 96.9C361.4 96.7 363.1 96.7 364.1 96.2C365.2 95.7 365.4 94.5 366.0 94.0C366.6 93.5 367.2 97.0 367.7 93.5C368.2 90.0 368.5 78.9 368.9 72.9C369.3 66.9 369.6 60.7 370.0 57.4C370.4 54.1 370.6 52.9 371.1 53.2C371.6 53.5 372.4 57.1 372.9 59.2C373.4 61.3 373.7 63.4 374.1 66.0C374.5 68.6 374.9 71.4 375.4 74.6C375.9 77.8 376.5 82.2 377.2 84.9C377.9 87.6 378.8 89.6 379.7 90.9C380.6 92.2 381.4 93.3 382.3 92.6C383.2 91.9 384.1 89.8 384.9 86.6C385.7 83.4 386.3 74.3 386.9 73.7C387.5 73.1 387.7 80.0 388.3 83.2C388.9 86.4 389.8 92.2 390.5 93.1C391.2 93.9 392.1 93.1 392.6 88.3C393.2 83.5 393.3 71.2 393.8 64.3C394.3 57.3 394.9 49.3 395.5 46.6C396.1 43.9 396.7 45.6 397.2 48.0C397.7 50.4 398.2 55.9 398.6 60.9C399.0 65.9 399.4 74.2 399.8 78.0C400.2 81.8 400.6 83.4 401.2 84.0C401.8 84.6 403.0 82.8 403.7 81.5C404.4 80.2 404.9 76.0 405.5 76.0C406.1 76.0 406.7 79.3 407.2 81.5C407.7 83.7 408.0 89.5 408.5 89.2C409.0 88.9 409.7 82.4 410.1 79.7C410.5 77.0 410.7 72.9 411.1 73.2C411.5 73.5 411.9 79.5 412.3 81.5C412.7 83.5 413.1 85.5 413.5 84.9C413.9 84.3 414.5 80.5 414.9 78.0C415.3 75.5 415.5 69.2 415.9 69.8C416.3 70.4 416.6 79.0 417.1 81.5C417.7 84.0 418.6 84.3 419.2 84.9C419.8 85.5 420.3 86.6 420.9 84.9C421.5 83.2 422.1 77.0 422.6 74.6C423.1 72.2 423.4 70.0 423.8 70.3C424.2 70.6 424.7 74.0 425.2 76.3C425.7 78.6 426.3 82.5 426.9 84.0C427.5 85.5 428.1 87.0 428.6 85.2C429.1 83.4 429.4 77.8 430.1 73.3C430.8 68.8 431.9 62.3 432.7 57.9C433.5 53.5 434.2 47.0 434.8 46.7C435.4 46.4 435.6 52.1 436.1 56.2C436.6 60.4 437.3 67.6 437.9 71.6C438.5 75.6 439.2 79.6 439.9 80.2C440.6 80.8 441.4 77.3 442.2 75.0C443.0 72.7 444.0 68.8 444.7 66.5C445.4 64.2 445.8 65.0 446.4 61.3C447.0 57.6 447.6 49.4 448.2 44.2C448.8 39.1 449.1 34.1 449.9 30.4C450.7 26.7 452.0 22.8 452.8 21.9C453.6 21.0 454.0 23.0 454.5 25.3C455.0 27.6 455.4 31.9 455.9 35.6C456.4 39.3 457.1 44.2 457.6 47.6C458.1 51.0 458.5 53.7 459.0 56.2C459.5 58.7 460.1 61.5 460.5 62.6C460.9 63.7 461.1 61.6 461.4 62.8C461.7 64.0 462.0 66.8 462.4 69.9C462.8 73.0 463.5 78.4 464.0 81.2C464.5 84.0 464.9 85.7 465.6 86.9C466.3 88.1 467.3 89.3 468.1 88.6C468.9 87.9 469.7 84.2 470.5 82.8C471.3 81.4 472.0 80.3 472.7 80.4C473.4 80.5 473.7 81.7 474.6 83.6C475.5 85.5 476.9 91.1 477.9 91.8C478.9 92.5 479.6 88.6 480.4 87.7C481.2 86.8 481.9 87.5 482.8 86.6C483.8 85.6 485.0 81.4 486.1 82.0C487.2 82.6 488.2 89.9 489.4 90.2C490.5 90.5 492.1 84.5 493.0 84.1C493.9 83.7 494.2 86.3 495.1 87.7C496.0 89.1 496.9 91.4 498.4 92.3C499.9 93.2 502.1 92.9 504.1 93.1C506.1 93.3 509.0 93.4 510.6 93.5C512.2 93.6 512.0 93.6 513.9 93.8C515.8 94.0 520.2 95.2 522.1 94.6C524.0 94.0 524.0 90.2 525.0 90.2C526.0 90.2 526.6 93.6 527.8 94.6C528.9 95.5 530.4 95.6 531.9 95.9C533.4 96.2 535.6 96.0 536.8 96.7C538.0 97.4 538.9 99.5 539.3 100.0" stroke="#008000" stroke-width="1.9" fill="none" stroke-linejoin="round" stroke-linecap="round"/>
<path d="M73.10 342.20H80.95M76.80 328.81H80.95M73.10 315.42H80.95M76.80 302.03H80.95M73.10 288.64H80.95M76.80 275.25H80.95M73.10 261.86H80.95M76.80 248.47H80.95M73.10 235.08H80.95M76.80 221.69H80.95M73.10 208.30H80.95M76.80 194.91H80.95M73.10 181.52H80.95M76.80 168.13H80.95M73.10 154.74H80.95M76.80 141.35H80.95M73.10 127.96H80.95M76.80 114.57H80.95M73.10 101.18H80.95M76.80 87.79H80.95M73.10 74.40H80.95M76.80 61.01H80.95M73.10 47.62H80.95M76.80 34.23H80.95M73.10 20.84H80.95M76.80 7.45H80.95M80.95 342.20V349.7M112.79 342.20V346.7M144.62 342.20V349.7M176.46 342.20V346.7M208.30 342.20V349.7M240.14 342.20V346.7M271.97 342.20V349.7M303.81 342.20V346.7M335.65 342.20V349.7M367.49 342.20V346.7M399.32 342.20V349.7M431.16 342.20V346.7M463.00 342.20V349.7M494.84 342.20V346.7M526.67 342.20V349.7" stroke="#000" stroke-width="1.7" fill="none"/>
<rect x="80.95" y="7.05" width="458.55" height="335.15" stroke="#000" stroke-width="1.7" fill="none"/>
<g font-family="'Liberation Sans', Arial, sans-serif" font-size="16.7" fill="#000" stroke="#000" stroke-width="0.25">
<text transform="translate(68.9,341.05)" y="5.75" text-anchor="end">0.0</text><text transform="translate(68.9,314.27)" y="5.75" text-anchor="end">0.2</text><text transform="translate(68.9,287.49)" y="5.75" text-anchor="end">0.4</text><text transform="translate(68.9,260.71)" y="5.75" text-anchor="end">0.6</text><text transform="translate(68.9,233.93)" y="5.75" text-anchor="end">0.8</text><text transform="translate(68.9,207.15)" y="5.75" text-anchor="end">1.0</text><text transform="translate(68.9,180.37)" y="5.75" text-anchor="end">1.2</text><text transform="translate(68.9,153.59)" y="5.75" text-anchor="end">1.4</text><text transform="translate(68.9,126.81)" y="5.75" text-anchor="end">1.6</text><text transform="translate(68.9,100.03)" y="5.75" text-anchor="end">1.8</text><text transform="translate(68.9,73.25)" y="5.75" text-anchor="end">2.0</text><text transform="translate(68.9,46.47)" y="5.75" text-anchor="end">2.2</text><text transform="translate(68.9,19.69)" y="5.75" text-anchor="end">2.4</text><text transform="translate(80.75,361.1) scale(1.035,1.0)" y="5.75" text-anchor="middle">4000</text><text transform="translate(144.43,361.1) scale(1.035,1.0)" y="5.75" text-anchor="middle">3500</text><text transform="translate(208.10,361.1) scale(1.035,1.0)" y="5.75" text-anchor="middle">3000</text><text transform="translate(271.77,361.1) scale(1.035,1.0)" y="5.75" text-anchor="middle">2500</text><text transform="translate(335.45,361.1) scale(1.035,1.0)" y="5.75" text-anchor="middle">2000</text><text transform="translate(399.12,361.1) scale(1.035,1.0)" y="5.75" text-anchor="middle">1500</text><text transform="translate(462.80,361.1) scale(1.035,1.0)" y="5.75" text-anchor="middle">1000</text><text transform="translate(526.47,361.1) scale(1.035,1.0)" y="5.75" text-anchor="middle">500</text><text transform="translate(87.5,84.05)" y="5.75">1.20</text><text transform="translate(87.5,116.25)" y="5.75">1.10</text><text transform="translate(87.5,158.95)" y="5.75">1.05</text><text transform="translate(87.5,203.85)" y="5.75">1.00</text><text transform="translate(87.5,240.25)" y="5.75">0.95</text><text transform="translate(87.5,285.95)" y="5.75">0.90</text><text transform="translate(87.5,324.30)" y="5.75">0.80</text>
</g>
<g font-family="'Liberation Sans', Arial, sans-serif" font-size="18.5" fill="#000" stroke="#000" stroke-width="0.2">
<text transform="translate(228,401.6) scale(1.026,1)" font-size="19.5">Wavenumber, cm<tspan font-size="11" dy="-10.5" dx="-0.4">-1</tspan></text>
<text transform="translate(19.5,276.2) rotate(-90)" font-size="19.7">Relative absorbance, -</text>
</g>
</svg>
</body></html>
